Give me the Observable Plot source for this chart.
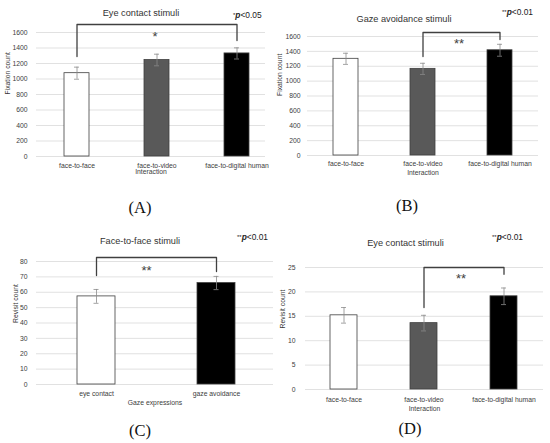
<!DOCTYPE html>
<html>
<head>
<meta charset="utf-8">
<script src="https://cdn.jsdelivr.net/npm/d3@7"></script>
<script src="https://cdn.jsdelivr.net/npm/@observablehq/plot@0.6"></script>
<style>
  body { margin: 0; background: white; }
  #fig { position: relative; width: 550px; height: 443px; background: white; overflow: hidden; }
  .panel { position: absolute; }
  #notes { position: absolute; left: 0; top: 0; pointer-events: none; }
</style>
</head>
<body>
<div id="fig"></div>
<script>
// categories
const interaction = ["face-to-face", "face-to-video", "face-to-digital human"];
const gazeExpr = ["eye contact", "gaze avoidance"];

// (A) fixation count, eye contact stimuli
const fixEyeMean = [1075, 1245, 1330];
const fixEyeErr = [78, 75, 72];
// (B) fixation count, gaze avoidance stimuli
const fixGazeMean = [1300, 1165, 1415];
const fixGazeErr = [75, 75, 80];
// (C) revisit count, face-to-face stimuli
const revFaceMean = [57.3, 66];
const revFaceErr = [4.5, 4.3];
// (D) revisit count, eye contact stimuli
const revEyeMean = [15.2, 13.6, 19.1];
const revEyeErr = [1.6, 1.6, 1.7];

// tick labels
const fixTicks = [0, 200, 400, 600, 800, 1000, 1200, 1400, 1600];
const revFaceTicks = [0, 10, 20, 30, 40, 50, 60, 70, 80];
const revEyeTicks = [0, 5, 10, 15, 20, 25];

const fills3 = ["white", "#595959", "black"];
const fills2 = ["white", "black"];

const font = "'Liberation Sans', Arial, sans-serif";

function panel(o) {
  const data = o.cats.map((c, i) => ({cat: c, mean: o.mean[i], err: o.err[i]}));
  const [b0, b1] = o.between;
  const br = [
    {cat: b0, y: o.brLeft},
    {cat: b0, y: o.brTop},
    {cat: b1, y: o.brTop},
    {cat: b1, y: o.brRight}
  ];
  return Plot.plot({
    width: 275,
    height: o.height,
    marginTop: o.mt,
    marginBottom: o.mb,
    marginLeft: o.ml,
    marginRight: o.mr,
    style: {fontFamily: font, fontSize: "6.8px", color: "#404040", background: "white", overflow: "visible"},
    x: {domain: o.cats, range: o.xRange, paddingInner: o.pad, paddingOuter: o.pad / 2, label: null, tickSize: 0, tickPadding: o.xPad},
    y: {domain: [0, o.ticks[o.ticks.length - 1]], ticks: o.ticks, tickFormat: d => String(d), label: null, tickSize: 0, tickPadding: o.yPad},
    color: {domain: o.cats, range: o.fills},
    marks: [
      Plot.ruleY(o.ticks, {stroke: "#d9d9d9", strokeWidth: 0.8}),
      Plot.barY(data, {x: "cat", y: "mean", fill: "cat", stroke: "#404040", strokeWidth: 0.8}),
      Plot.ruleX(data, {x: "cat", y1: d => d.mean - d.err, y2: d => d.mean + d.err, stroke: "#8c8c8c", strokeWidth: 0.8}),
      Plot.tickY(data, {x: "cat", y: d => d.mean + d.err, inset: o.capInset, stroke: "#8c8c8c", strokeWidth: 0.8}),
      Plot.tickY(data, {x: "cat", y: d => d.mean - d.err, inset: o.capInset, stroke: "#8c8c8c", strokeWidth: 0.8}),
      Plot.line(br, {x: "cat", y: "y", stroke: "#404040", strokeWidth: 1.3}),
      Plot.text([o.stars], {x: () => o.starCat, y: () => o.brTop, text: d => d, dx: o.starDx, dy: o.starDy, fontSize: 13, fill: "#404040"}),
      Plot.text([o.xLabel], {frameAnchor: "bottom", dy: o.xLabelDy, text: d => d, fontSize: 6.8, fill: "#404040"}),
      Plot.text([o.yLabel], {frameAnchor: "left", rotate: -90, dx: o.yLabelDx, text: d => d, fontSize: 6.8, fill: "#333"})
    ]
  });
}

const panels = [
  {left: 0, top: 0, height: 220, mt: 32, mb: 64, ml: 36, mr: 10, xRange: [35.3, 276.8], pad: 0.69, capInset: 10,
   cats: interaction, mean: fixEyeMean, err: fixEyeErr, fills: fills3, ticks: fixTicks, xPad: 6.5, yPad: 9,
   between: [interaction[0], interaction[2]], brTop: 1703, brLeft: 1290, brRight: 1497,
   stars: "*", starCat: interaction[1], starDx: -2, starDy: 12,
   xLabel: "Interaction", xLabelDy: 17, yLabel: "Fixation count", yLabelDx: -29},
  {left: 275, top: 0, height: 220, mt: 36, mb: 65, ml: 32, mr: 12, xRange: [30.5, 264], pad: 0.68, capInset: 10,
   cats: interaction, mean: fixGazeMean, err: fixGazeErr, fills: fills3, ticks: fixTicks, xPad: 5.6, yPad: 7,
   between: [interaction[1], interaction[2]], brTop: 1654, brLeft: 1331, brRight: 1560,
   stars: "**", starCat: interaction[1], starDx: 36, starDy: 11,
   xLabel: "Interaction", xLabelDy: 19, yLabel: "Fixation count", yLabelDx: -28},
  {left: 0, top: 220, height: 223, mt: 41, mb: 59, ml: 36, mr: 2, xRange: [35.3, 277.2], pad: 0.686, capInset: 16.5,
   cats: gazeExpr, mean: revFaceMean, err: revFaceErr, fills: fills2, ticks: revFaceTicks, xPad: 6.5, yPad: 9,
   between: [gazeExpr[0], gazeExpr[1]], brTop: 82.6, brLeft: 70.9, brRight: 73.5,
   stars: "**", starCat: gazeExpr[0], starDx: 50, starDy: 13,
   xLabel: "Gaze expressions", xLabelDy: 20, yLabel: "Revisit count", yLabelDx: -21},
  {left: 275, top: 220, height: 223, mt: 47, mb: 54, ml: 30, mr: 7, xRange: [28.5, 268.5], pad: 0.66, capInset: 11,
   cats: interaction, mean: revEyeMean, err: revEyeErr, fills: fills3, ticks: revEyeTicks, xPad: 7.5, yPad: 10,
   between: [interaction[1], interaction[2]], brTop: 25, brLeft: 16.8, brRight: 23.6,
   stars: "**", starCat: interaction[1], starDx: 37, starDy: 11,
   xLabel: "Interaction", xLabelDy: 21, yLabel: "Revisit count", yLabelDx: -23}
];

const fig = d3.select("#fig");
panels.forEach(p => {
  fig.append("div")
    .attr("class", "panel")
    .style("left", p.left + "px")
    .style("top", p.top + "px")
    .append(() => panel(p));
});

// titles, significance notes and panel letters
const titles = [
  {text: "Eye contact stimuli", x: 141, y: 16},
  {text: "Gaze avoidance stimuli", x: 404, y: 22},
  {text: "Face-to-face stimuli", x: 140, y: 244},
  {text: "Eye contact stimuli", x: 405.5, y: 246}
];
const notes = [
  {stars: "*", p: "<0.05", x: 233, y: 18},
  {stars: "**", p: "<0.01", x: 502, y: 15},
  {stars: "**", p: "<0.01", x: 237, y: 240},
  {stars: "**", p: "<0.01", x: 492, y: 240}
];
const letters = [
  {text: "(A)", x: 140, y: 212.5},
  {text: "(B)", x: 407, y: 210.5},
  {text: "(C)", x: 140, y: 435.5},
  {text: "(D)", x: 410, y: 433.5}
];

const svg = fig.append("svg")
  .attr("id", "notes")
  .attr("width", 550)
  .attr("height", 443);

svg.selectAll(".title").data(titles).join("text")
  .attr("x", d => d.x).attr("y", d => d.y)
  .attr("text-anchor", "middle")
  .attr("font-family", font).attr("font-size", 9.2).attr("fill", "#333")
  .text(d => d.text);

const note = svg.selectAll(".note").data(notes).join("text")
  .attr("x", d => d.x).attr("y", d => d.y)
  .attr("font-family", font).attr("font-size", 8.4).attr("fill", "#222");
note.append("tspan").attr("font-size", 6).attr("dy", -1.5).text(d => d.stars);
note.append("tspan").attr("dy", 1.5).attr("font-style", "italic").attr("font-weight", "bold").text("p");
note.append("tspan").text(d => d.p);

svg.selectAll(".letter").data(letters).join("text")
  .attr("x", d => d.x).attr("y", d => d.y)
  .attr("text-anchor", "middle")
  .attr("font-family", "'Liberation Serif', 'Times New Roman', serif").attr("font-size", 16.5).attr("fill", "#111")
  .text(d => d.text);
</script>
</body>
</html>
